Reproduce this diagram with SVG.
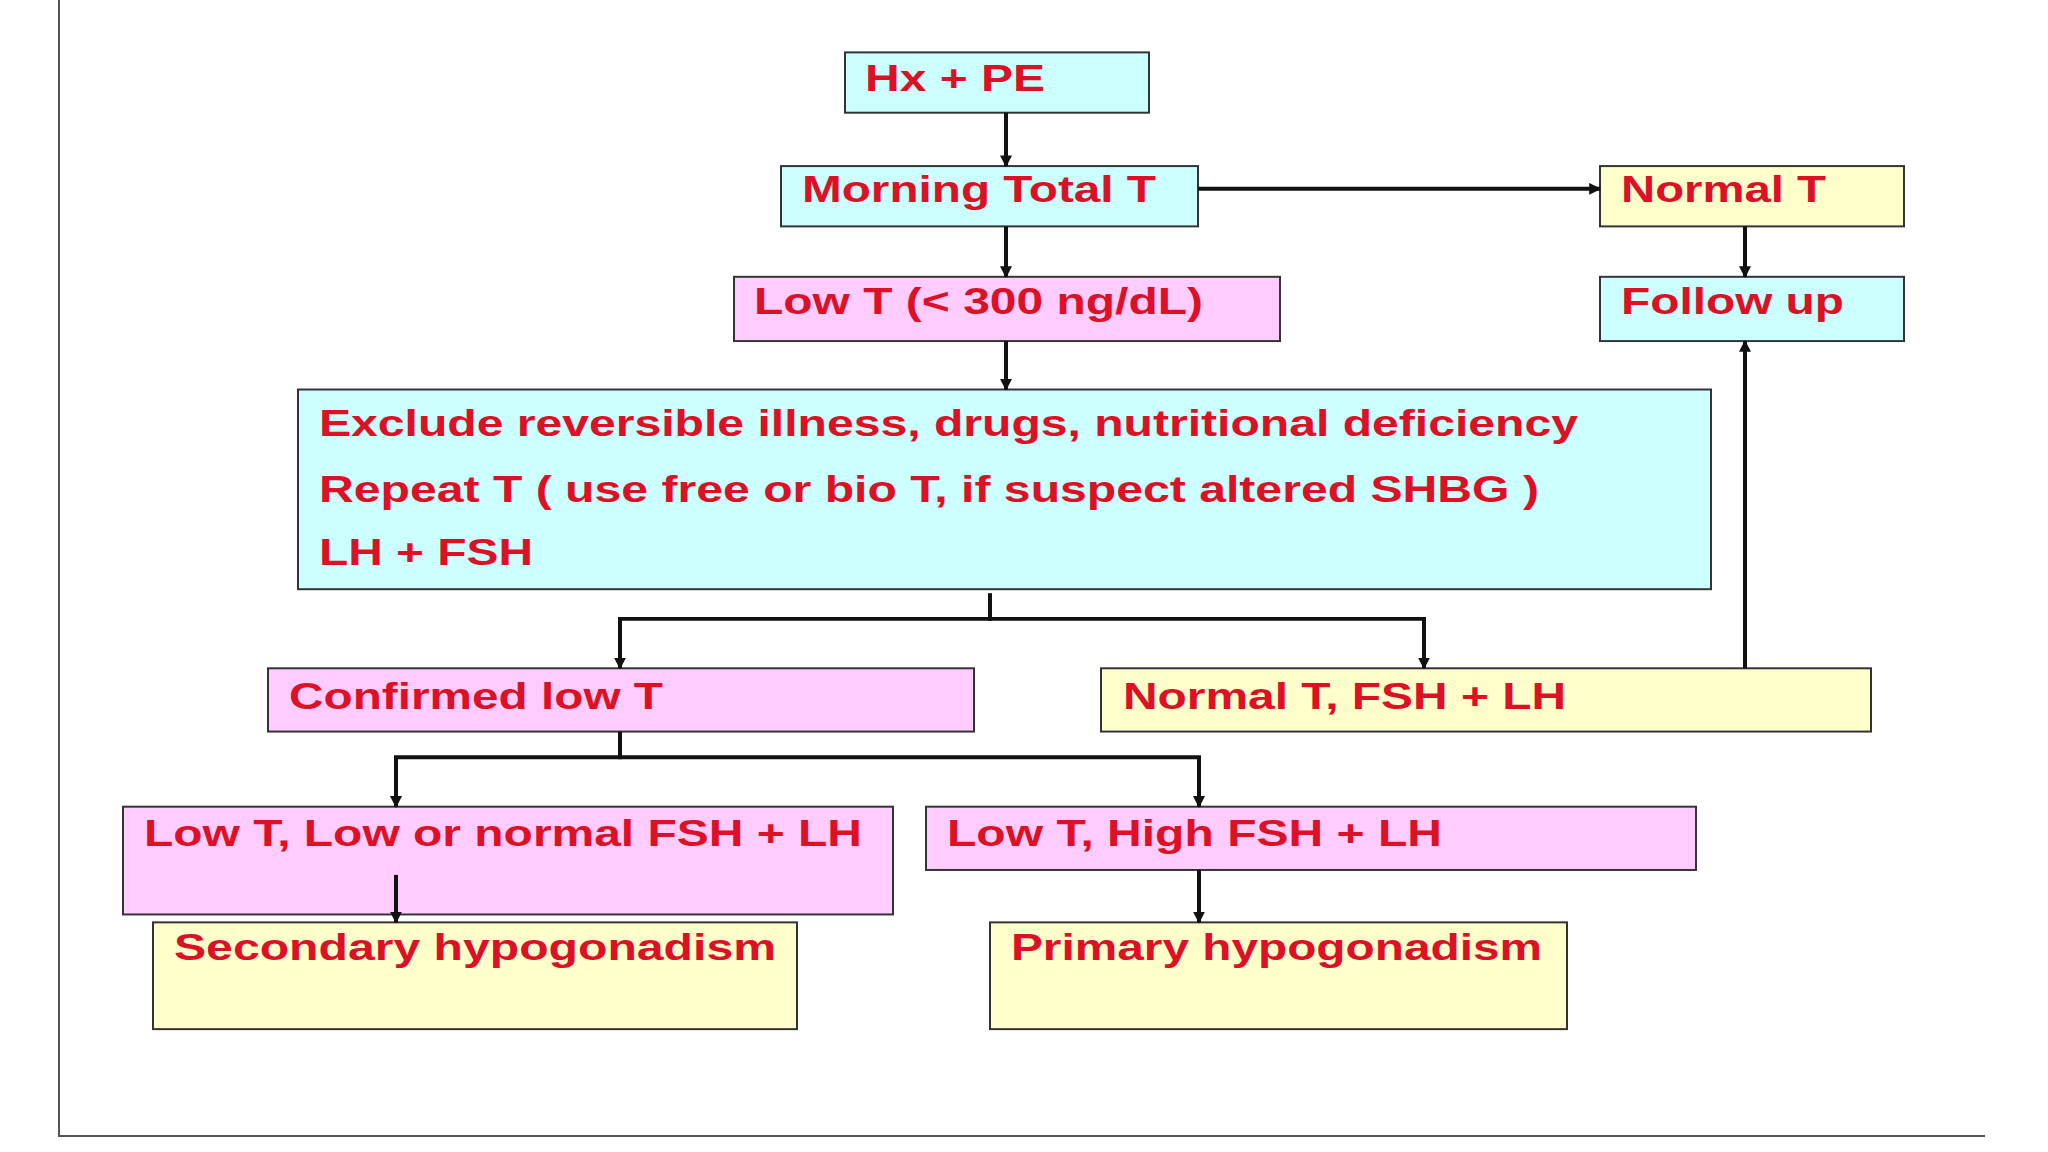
<svg xmlns="http://www.w3.org/2000/svg" width="2048" height="1152" viewBox="0 0 2048 1152">
<defs>
<style>
.b{stroke:#333;stroke-width:2}
.c{fill:#ccffff}.p{fill:#ffccff}.y{fill:#ffffcc}
text{font-family:"Liberation Sans",Arial,sans-serif;font-weight:bold;font-size:37px;fill:#dd1126}
.e{stroke:#111;stroke-width:4;fill:none;marker-end:url(#a)}
.l{stroke:#111;stroke-width:4;fill:none}
</style>
<marker id="a" viewBox="0 0 10 10" refX="9" refY="5" markerWidth="3" markerHeight="3" orient="auto"><path d="M0,0L10,5L0,10z" fill="#111"/></marker>
</defs>
<rect width="2048" height="1152" fill="#fff"/>
<path d="M59,0V1136H1985" stroke="#555" stroke-width="2" fill="none"/>
<g transform="scale(1,0.9886)">
<g id="n1"><rect class="b c" x="845" y="53" width="304" height="61"/><text x="865" y="92" textLength="180" lengthAdjust="spacingAndGlyphs">Hx + PE</text></g>
<g id="n2"><rect class="b c" x="781" y="168" width="417" height="61"/><text x="802" y="204" textLength="354" lengthAdjust="spacingAndGlyphs">Morning Total T</text></g>
<g id="n3"><rect class="b y" x="1600" y="168" width="304" height="61"/><text x="1621" y="204" textLength="205" lengthAdjust="spacingAndGlyphs">Normal T</text></g>
<g id="n4"><rect class="b p" x="734" y="280" width="546" height="65"/><text x="754" y="318" textLength="449" lengthAdjust="spacingAndGlyphs">Low T (&lt; 300 ng/dL)</text></g>
<g id="n5"><rect class="b c" x="1600" y="280" width="304" height="65"/><text x="1621" y="318" textLength="223" lengthAdjust="spacingAndGlyphs">Follow up</text></g>
<g id="n6"><rect class="b c" x="298" y="394" width="1413" height="202"/>
<text x="319" y="441" textLength="1259" lengthAdjust="spacingAndGlyphs">Exclude reversible illness, drugs, nutritional deficiency</text>
<text x="319" y="508" textLength="1220" lengthAdjust="spacingAndGlyphs">Repeat T ( use free or bio T, if suspect altered SHBG )</text>
<text x="319" y="572" textLength="214" lengthAdjust="spacingAndGlyphs">LH + FSH</text></g>
<g id="n7"><rect class="b p" x="268" y="676" width="706" height="64"/><text x="289" y="717" textLength="374" lengthAdjust="spacingAndGlyphs">Confirmed low T</text></g>
<g id="n8"><rect class="b y" x="1101" y="676" width="770" height="64"/><text x="1123" y="717" textLength="443" lengthAdjust="spacingAndGlyphs">Normal T, FSH + LH</text></g>
<g id="n9"><rect class="b p" x="123" y="816" width="770" height="109"/><text x="144" y="856" textLength="718" lengthAdjust="spacingAndGlyphs">Low T, Low or normal FSH + LH</text></g>
<g id="n10"><rect class="b p" x="926" y="816" width="770" height="64"/><text x="947" y="856" textLength="495" lengthAdjust="spacingAndGlyphs">Low T, High FSH + LH</text></g>
<g id="n11"><rect class="b y" x="153" y="933" width="644" height="108"/><text x="174" y="971" textLength="602" lengthAdjust="spacingAndGlyphs">Secondary hypogonadism</text></g>
<g id="n12"><rect class="b y" x="990" y="933" width="577" height="108"/><text x="1011" y="971" textLength="531" lengthAdjust="spacingAndGlyphs">Primary hypogonadism</text></g>
<g id="connectors">
<path class="e" d="M1006,114V168"/>
<path class="e" d="M1198,191H1600"/>
<path class="e" d="M1006,229V280"/>
<path class="e" d="M1745,229V280"/>
<path class="e" d="M1006,345V394"/>
<path class="l" d="M990,600V628"/>
<path class="e" d="M990,626H620V676"/>
<path class="e" d="M990,626H1424V676"/>
<path class="e" d="M1745,676V345"/>
<path class="l" d="M620,740V768"/>
<path class="e" d="M620,766H396V816"/>
<path class="e" d="M620,766H1199V816"/>
<path class="e" d="M396,885V933"/>
<path class="e" d="M1199,880V933"/>
</g>
</g>
</svg>
